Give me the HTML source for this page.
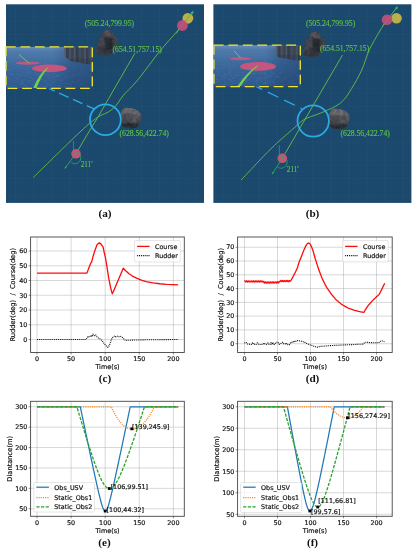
<!DOCTYPE html>
<html lang="en"><head><meta charset="utf-8"><title>Figure</title>
<style>html,body{margin:0;padding:0;background:#fff;}body{width:416px;height:550px;overflow:hidden;}svg{display:block;}</style>
</head><body>
<svg width="416" height="550" viewBox="0 0 416 550">
<defs>
<pattern id="grid" width="18" height="18" patternUnits="userSpaceOnUse" x="-2.7" y="-2.4">
<path d="M0,0.5H18M0.5,0V18" stroke="#9fc0e0" stroke-opacity="0.045" stroke-width="0.6" fill="none"/>
</pattern>
<pattern id="grid2" width="3.6" height="3.6" patternUnits="userSpaceOnUse" x="4" y="2">
<path d="M0,0.3H3.6M0.3,0V3.6" stroke="#9fc0e0" stroke-opacity="0.012" stroke-width="0.4" fill="none"/>
</pattern>
<linearGradient id="water" x1="0" y1="0" x2="0" y2="1">
<stop offset="0" stop-color="#6c90b9"/><stop offset="0.1" stop-color="#507bac"/><stop offset="0.45" stop-color="#3b699d"/><stop offset="1" stop-color="#2b588b"/>
</linearGradient>
<linearGradient id="shade" x1="0" y1="0" x2="1" y2="0"><stop offset="0" stop-color="#17365c" stop-opacity="0"/><stop offset="0.5" stop-color="#17365c" stop-opacity="0.3"/><stop offset="1" stop-color="#17365c" stop-opacity="0.4"/></linearGradient>
<linearGradient id="cliff" x1="0" y1="0" x2="1" y2="1">
<stop offset="0" stop-color="#6a696b"/><stop offset="0.5" stop-color="#47474c"/><stop offset="1" stop-color="#5c5b5e"/>
</linearGradient>
<radialGradient id="rock1" cx="0.5" cy="0.55" r="0.6">
<stop offset="0" stop-color="#2e3038"/><stop offset="0.55" stop-color="#3d3f48"/><stop offset="1" stop-color="#4c4e58"/>
</radialGradient>
<linearGradient id="rock2" x1="0.3" y1="0" x2="0.6" y2="1">
<stop offset="0" stop-color="#6e6f74"/><stop offset="0.45" stop-color="#55575e"/><stop offset="1" stop-color="#2f333e"/>
</linearGradient>
<filter id="rough" x="-10%" y="-10%" width="120%" height="120%">
<feTurbulence type="fractalNoise" baseFrequency="0.3" numOctaves="2" seed="4" result="n"/>
<feColorMatrix in="n" type="matrix" values="0 0 0 0 0  0 0 0 0 0  0 0 0 0 0  0.9 0.9 0 0 -0.75" result="a"/>
<feFlood flood-color="#15161a" result="f"/>
<feComposite in="f" in2="a" operator="in" result="dark"/>
<feComposite in="dark" in2="SourceGraphic" operator="in" result="d2"/>
<feMerge result="m"><feMergeNode in="SourceGraphic"/><feMergeNode in="d2"/></feMerge>
<feGaussianBlur in="m" stdDeviation="0.45"/>
</filter>
<filter id="soft" x="-5%" y="-5%" width="110%" height="110%"><feGaussianBlur stdDeviation="0.5"/></filter>
<filter id="soft2" x="-20%" y="-20%" width="140%" height="140%"><feGaussianBlur stdDeviation="1.1"/></filter>
<filter id="waves" x="0" y="0" width="100%" height="100%">
<feTurbulence type="fractalNoise" baseFrequency="0.25 0.9" numOctaves="2" seed="7" result="n"/>
<feColorMatrix in="n" type="matrix" values="0 0 0 0 0.1  0 0 0 0 0.2  0 0 0 0 0.4  1.0 0 0 0 -0.45" result="a"/>
<feComposite in="a" in2="SourceGraphic" operator="in" result="d2"/>
<feMerge><feMergeNode in="SourceGraphic"/><feMergeNode in="d2"/></feMerge>
</filter>
</defs>
<rect width="416" height="550" fill="#ffffff"/>
<g>
<rect x="6" y="4.3" width="198" height="198.6" fill="#1b486d"/>
<g transform="translate(0,0)"><rect x="6" y="4.3" width="198" height="198.6" fill="url(#grid2)"/>
<rect x="6" y="4.3" width="198" height="198.6" fill="url(#grid)"/></g>
<path d="M182.4,25.5 L181.2,26.85 L179.69,28.54 L177.9,30.52 L175.9,32.75 L173.73,35.17 L171.44,37.74 L169.08,40.4 L166.71,43.1 L164.37,45.81 L162.12,48.45 L160,51 L157.94,53.56 L155.83,56.24 L153.7,59.02 L151.55,61.86 L149.41,64.71 L147.3,67.54 L145.22,70.31 L143.21,72.98 L141.27,75.51 L139.43,77.86 L137.7,80 L135.16,82.96 L132.79,85.56 L130.58,87.86 L128.53,89.92 L126.63,91.82 L124.89,93.62 L123.3,95.4 L120.5,99.14 L118.55,102.23 L116.5,105 L114.14,107.48 L111.68,109.64 L108.8,111.7 L106.84,112.78 L104.75,113.67 L102.5,114.6 L100.03,115.8 L97.3,117.5 L95.62,118.68 L94.07,119.79 L92.53,120.94 L90.85,122.27 L88.9,123.91 L86.53,125.99 L83.61,128.64 L80,132 L78.51,133.4 L76.84,134.99 L75.01,136.74 L73.03,138.64 L70.93,140.67 L68.73,142.8 L66.43,145.03 L64.07,147.33 L61.66,149.68 L59.22,152.06 L56.77,154.46 L54.32,156.85 L51.9,159.22 L49.53,161.55 L47.21,163.82 L44.98,166 L42.85,168.09 L40.85,170.06 L38.97,171.9 L37.26,173.58 L35.72,175.09 L34.38,176.4 L33.25,177.5" fill="none" stroke="#62c14a" stroke-width="0.9"/>
<path d="M135,53 L119.4,80 L108.8,98.3 L98.3,116.5 L87.7,133.8 L76,153.8" fill="none" stroke="#62c14a" stroke-width="0.9"/>
<circle cx="187.9" cy="18.3" r="5.4" fill="#b9b04b"/>
<path d="M176,33.5 L192.4,12.3" stroke="#45c04e" stroke-width="1" fill="none"/>
<path d="M193.6,10.6 L193,14.4 L190.6,12.6 Z" fill="#3cbc55"/>
<circle cx="182.4" cy="25.5" r="5.4" fill="#c94f7c" fill-opacity="0.88"/>
<circle cx="76" cy="153.8" r="4.8" fill="#c94f7c"/>
<path d="M77.5,151.60000000000002 L65.2,167.9" stroke="#2fab57" stroke-width="0.9" fill="none"/>
<path d="M64.4,169 L65.1,166.27 L66.85,167.6 Z" fill="#2fab57"/>
<path d="M73.4,140.8 V156.8" stroke="#2fab57" stroke-width="0.7" fill="none"/>
<path d="M73.4,151.87 A6.0,6.0 0 1 1 71.16,162.47" stroke="#2fab57" stroke-width="0.8" fill="none"/>
<clipPath id="r1a"><path d="M108.6,29.6 L105,31 L102.1,33.5 L99.6,37.5 L98.2,41.3 L97,45 L96.1,49.1 L96.3,52.5 L97.4,54.3 L101,55.4 L104.7,55.6 L108,55.2 L110.8,54.3 L113.8,51.5 L116,48.2 L117.4,44 L117.7,39.6 L116,36.5 L113.4,34.4 L112,32 L110.8,30.5Z"/></clipPath>
<g filter="url(#rough)"><path d="M108.6,29.6 L105,31 L102.1,33.5 L99.6,37.5 L98.2,41.3 L97,45 L96.1,49.1 L96.3,52.5 L97.4,54.3 L101,55.4 L104.7,55.6 L108,55.2 L110.8,54.3 L113.8,51.5 L116,48.2 L117.4,44 L117.7,39.6 L116,36.5 L113.4,34.4 L112,32 L110.8,30.5Z" fill="url(#rock1)"/>
<g clip-path="url(#r1a)" filter="url(#soft2)">
<path d="M106.87,29.19 L112.92,32.65 L112.06,36.98 L106.44,36.11 L102.98,33.95Z" fill="#626165" fill-opacity="0.9"/>
<path d="M98.22,36.98 L104.71,35.25 L105.14,45.63 L97.79,49.09Z" fill="#4a4c54" fill-opacity="0.9"/>
<path d="M105.14,36.98 L112.92,36.98 L113.36,49.95 L105.57,50.82Z" fill="#2a2c35" fill-opacity="0.9"/>
<path d="M113.36,35.25 L118.11,38.71 L116.38,49.09 L113.36,49.95Z" fill="#4b4b52" fill-opacity="0.9"/>
<path d="M96.06,49.09 L111.63,50.38 L111.19,56.01 L96.92,55.57Z" fill="#383a44" fill-opacity="0.9"/>
<path d="M107.73,32.22 L109.46,32.22 L109.46,33.95 L107.73,33.95Z" fill="#222329" fill-opacity="0.8"/>
</g></g>
<clipPath id="r2a"><path d="M125.2,107.8 L131.3,108.2 L134.5,109 L137.4,110.4 L139.8,112.4 L141.2,114.7 L141.9,117 L141.7,119 L140.6,122 L139.1,124.2 L137.5,126.2 L135.6,127.7 L132,128.2 L128.7,128.1 L125.5,127.5 L122.7,126.4 L121.2,124 L120.5,121.6 L120.2,118.5 L120.5,115.6 L121,112.8 L122.2,110.4 L123.5,108.8Z"/></clipPath>
<g filter="url(#rough)"><path d="M125.2,107.8 L131.3,108.2 L134.5,109 L137.4,110.4 L139.8,112.4 L141.2,114.7 L141.9,117 L141.7,119 L140.6,122 L139.1,124.2 L137.5,126.2 L135.6,127.7 L132,128.2 L128.7,128.1 L125.5,127.5 L122.7,126.4 L121.2,124 L120.5,121.6 L120.2,118.5 L120.5,115.6 L121,112.8 L122.2,110.4 L123.5,108.8Z" fill="url(#rock2)"/>
<g clip-path="url(#r2a)" filter="url(#soft2)">
<path d="M123.52,107.35 L138.22,109.52 L139.95,114.71 L131.3,113.84 L122.65,112.98Z" fill="#737375" fill-opacity="0.85"/>
<path d="M120.06,113.84 L131.3,114.27 L130.44,122.49 L120.49,122.49Z" fill="#4c4d53" fill-opacity="0.8"/>
<path d="M131.3,114.71 L142.11,115.14 L139.95,123.36 L131.3,122.92Z" fill="#5a5b60" fill-opacity="0.8"/>
<path d="M120.92,122.92 L139.95,123.36 L135.63,128.55 L122.65,127.68Z" fill="#2f3139" fill-opacity="0.9"/>
</g></g>
<circle cx="105.4" cy="119.8" r="15.4" fill="none" stroke="#29aae2" stroke-width="1.8"/>
<path d="M94.1,108.9 L48.7,88.4" stroke="#29aae2" stroke-width="1.25" stroke-dasharray="10.4 4.8" stroke-dashoffset="2.4" fill="none"/>
<rect x="6.0" y="46.9" width="86.3" height="41.5" fill="url(#water)" filter="url(#waves)"/>
<clipPath id="cla"><path d="M64.2,46.9 L92.3,46.9 L92.3,64.6 L88,64.2 L83,63.4 L78,62.3 L72,61.5 L70,60.8 L68,58.5 L64.5,57.4Z"/></clipPath>
<g clip-path="url(#cla)" filter="url(#soft)"><rect x="64.2" y="46.9" width="28.1" height="18.7" fill="#4b4b50"/>
<rect x="64.2" y="46.9" width="1.86" height="18.7" fill="#66656a"/>
<rect x="66.06" y="46.9" width="2.7" height="18.7" fill="#414247"/>
<rect x="68.77" y="46.9" width="2.62" height="18.7" fill="#5c5b5f"/>
<rect x="71.38" y="46.9" width="2.37" height="18.7" fill="#4a4a4f"/>
<rect x="73.75" y="46.9" width="1.95" height="18.7" fill="#68686b"/>
<rect x="75.7" y="46.9" width="2.87" height="18.7" fill="#3f4045"/>
<rect x="78.56" y="46.9" width="2.89" height="18.7" fill="#59585c"/>
<rect x="81.46" y="46.9" width="2.42" height="18.7" fill="#4e4e53"/>
<rect x="83.88" y="46.9" width="2.41" height="18.7" fill="#636266"/>
<rect x="86.28" y="46.9" width="1.98" height="18.7" fill="#44444a"/>
<rect x="88.26" y="46.9" width="1.61" height="18.7" fill="#57575b"/>
<rect x="89.87" y="46.9" width="2.19" height="18.7" fill="#66656a"/>
<rect x="92.06" y="46.9" width="2.54" height="18.7" fill="#414247"/>
<rect x="64.2" y="58.6" width="28.1" height="7" fill="#2e2f35" fill-opacity="0.3"/>
</g>
<rect x="52.2" y="46.9" width="40.1" height="41.5" fill="url(#shade)"/>
<ellipse cx="27.6" cy="63.1" rx="12" ry="1.7" fill="#bf5683"/>
<ellipse cx="49.3" cy="68.4" rx="17.5" ry="3.8" fill="#c4557f"/>
<path d="M19.2,54.9 L28.8,62.8" stroke="#6fd04a" stroke-width="0.9" fill="none" stroke-linecap="round"/>
<path d="M47.4,67.6 Q39,74 33.3,88 L36.5,88 Q41.5,75 48.0,67.89999999999999 Z" fill="#72d048"/>
<rect x="6.0" y="46.9" width="86.3" height="41.5" fill="none" stroke="#f2e62e" stroke-width="1.3" stroke-dasharray="9.7 4.78"/>
<text x="84.8" y="25.6" font-family="Liberation Serif, DejaVu Serif, serif" font-size="7.7" fill="#5fc04a" stroke="#5fc04a" stroke-width="0.15">(505.24,799.95)</text>
<text x="112.5" y="52.2" font-family="Liberation Serif, DejaVu Serif, serif" font-size="7.7" fill="#5fc04a" stroke="#5fc04a" stroke-width="0.15">(654.51,757.15)</text>
<text x="119.5" y="135.8" font-family="Liberation Serif, DejaVu Serif, serif" font-size="7.7" fill="#5fc04a" stroke="#5fc04a" stroke-width="0.15">(628.56,422.74)</text>
<text x="80.7" y="166.8" font-family="Liberation Serif, DejaVu Serif, serif" font-size="7.2" fill="#5fc04a" stroke="#5fc04a" stroke-width="0.15">211'</text>
</g>
<g>
<rect x="213.4" y="4.3" width="198" height="198.6" fill="#1b486d"/>
<g transform="translate(207.4,0)"><rect x="6" y="4.3" width="198" height="198.6" fill="url(#grid2)"/>
<rect x="6" y="4.3" width="198" height="198.6" fill="url(#grid)"/></g>
<path d="M387,19.7 L384.89,22.77 L381.3,28.5 L379.25,31.95 L376.8,36.09 L374.18,40.63 L371.63,45.27 L369.4,49.7 L367.22,54.98 L365.4,60.25 L363.58,65.52 L361.4,70.8 L359.2,75.22 L356.7,79.83 L354.12,84.35 L351.65,88.5 L349.5,92 L346.69,96.23 L344.38,99.18 L342.1,101.6 L339.72,103.63 L337.37,105.14 L335,106.5 L332.67,107.75 L330.32,108.84 L327.7,110 L325.5,110.98 L323.14,111.99 L320.64,113.04 L318,114.1 L316.06,114.82 L313.95,115.56 L311.77,116.31 L309.64,117.05 L307.68,117.79 L306,118.5 L303.56,119.81 L301.78,121.07 L300,122.5 L298.67,123.62 L297.33,124.91 L294,128 L292.65,129.21 L291.1,130.58 L289.38,132.08 L287.51,133.71 L285.52,135.46 L283.43,137.3 L281.25,139.23 L279.02,141.23 L276.76,143.29 L274.49,145.4 L272.23,147.54 L270,149.7 L268.02,151.67 L265.89,153.84 L263.63,156.17 L261.28,158.61 L258.89,161.13 L256.48,163.67 L254.1,166.21 L251.78,168.68 L249.56,171.06 L247.47,173.3 L245.55,175.36 L243.84,177.19 L242.38,178.75 L241.2,180" fill="none" stroke="#62c14a" stroke-width="0.9"/>
<path d="M342.5,55 L282.3,158.3" fill="none" stroke="#62c14a" stroke-width="0.9"/>
<circle cx="396.5" cy="18.3" r="5.3" fill="#b9b04b"/>
<path d="M383,26 L396.6,7.6" stroke="#3cbc55" stroke-width="1" fill="none"/>
<path d="M397.8,5.9 L397.2,9.7 L394.8,7.9 Z" fill="#3cbc55"/>
<circle cx="387" cy="19.7" r="5.3" fill="#c94f7c" fill-opacity="0.88"/>
<circle cx="282.3" cy="158.3" r="4.8" fill="#c94f7c"/>
<path d="M283.8,156.10000000000002 L272.5,173.6" stroke="#2fab57" stroke-width="0.9" fill="none"/>
<path d="M271.7,174.7 L272.19,171.92 L274.04,173.11 Z" fill="#2fab57"/>
<path d="M279.3,145.3 V161.3" stroke="#2fab57" stroke-width="0.7" fill="none"/>
<path d="M279.3,156.48 A6.0,6.0 0 1 1 277.84,167.24" stroke="#2fab57" stroke-width="0.8" fill="none"/>
<clipPath id="r1b"><path d="M316,31.1 L312.4,32.5 L309.5,35 L307,39 L305.6,42.8 L304.4,46.5 L303.5,50.6 L303.7,54 L304.8,55.8 L308.4,56.9 L312.1,57.1 L315.4,56.7 L318.2,55.8 L321.2,53 L323.4,49.7 L324.8,45.5 L325.1,41.1 L323.4,38 L320.8,35.9 L319.4,33.5 L318.2,32Z"/></clipPath>
<g filter="url(#rough)"><path d="M316,31.1 L312.4,32.5 L309.5,35 L307,39 L305.6,42.8 L304.4,46.5 L303.5,50.6 L303.7,54 L304.8,55.8 L308.4,56.9 L312.1,57.1 L315.4,56.7 L318.2,55.8 L321.2,53 L323.4,49.7 L324.8,45.5 L325.1,41.1 L323.4,38 L320.8,35.9 L319.4,33.5 L318.2,32Z" fill="url(#rock1)"/>
<g clip-path="url(#r1b)" filter="url(#soft2)">
<path d="M314.27,30.69 L320.32,34.15 L319.46,38.48 L313.84,37.61 L310.38,35.45Z" fill="#626165" fill-opacity="0.9"/>
<path d="M305.62,38.48 L312.11,36.75 L312.54,47.13 L305.19,50.59Z" fill="#4a4c54" fill-opacity="0.9"/>
<path d="M312.54,38.48 L320.32,38.48 L320.76,51.45 L312.97,52.32Z" fill="#2a2c35" fill-opacity="0.9"/>
<path d="M320.76,36.75 L325.51,40.21 L323.78,50.59 L320.76,51.45Z" fill="#4b4b52" fill-opacity="0.9"/>
<path d="M303.46,50.59 L319.03,51.88 L318.59,57.51 L304.32,57.07Z" fill="#383a44" fill-opacity="0.9"/>
<path d="M315.13,33.72 L316.86,33.72 L316.86,35.45 L315.13,35.45Z" fill="#222329" fill-opacity="0.8"/>
</g></g>
<clipPath id="r2b"><path d="M333.4,108.7 L339.5,109.1 L342.7,109.9 L345.6,111.3 L348,113.3 L349.4,115.6 L350.1,117.9 L349.9,119.9 L348.8,122.9 L347.3,125.1 L345.7,127.1 L343.8,128.6 L340.2,129.1 L336.9,129 L333.7,128.4 L330.9,127.3 L329.4,124.9 L328.7,122.5 L328.4,119.4 L328.7,116.5 L329.2,113.7 L330.4,111.3 L331.7,109.7Z"/></clipPath>
<g filter="url(#rough)"><path d="M333.4,108.7 L339.5,109.1 L342.7,109.9 L345.6,111.3 L348,113.3 L349.4,115.6 L350.1,117.9 L349.9,119.9 L348.8,122.9 L347.3,125.1 L345.7,127.1 L343.8,128.6 L340.2,129.1 L336.9,129 L333.7,128.4 L330.9,127.3 L329.4,124.9 L328.7,122.5 L328.4,119.4 L328.7,116.5 L329.2,113.7 L330.4,111.3 L331.7,109.7Z" fill="url(#rock2)"/>
<g clip-path="url(#r2b)" filter="url(#soft2)">
<path d="M331.72,108.25 L346.42,110.42 L348.15,115.61 L339.5,114.74 L330.85,113.88Z" fill="#737375" fill-opacity="0.85"/>
<path d="M328.26,114.74 L339.5,115.17 L338.64,123.39 L328.69,123.39Z" fill="#4c4d53" fill-opacity="0.8"/>
<path d="M339.5,115.61 L350.31,116.04 L348.15,124.26 L339.5,123.82Z" fill="#5a5b60" fill-opacity="0.8"/>
<path d="M329.12,123.82 L348.15,124.26 L343.83,129.45 L330.85,128.58Z" fill="#2f3139" fill-opacity="0.9"/>
</g></g>
<circle cx="313.2" cy="121" r="15.7" fill="none" stroke="#29aae2" stroke-width="1.8"/>
<path d="M256.3,86.6 L301.9,108.7" stroke="#29aae2" stroke-width="1.25" stroke-dasharray="11.7 6.4" stroke-dashoffset="5.3" fill="none"/>
<rect x="213.9" y="45.2" width="86.4" height="41.5" fill="url(#water)" filter="url(#waves)"/>
<clipPath id="clb"><path d="M276,45.2 L300.3,45.2 L300.3,60.9 L296,60.5 L291,59.7 L286,58.6 L280,57.8 L278,57.1 L276,54.8 L276.3,53.7Z"/></clipPath>
<g clip-path="url(#clb)" filter="url(#soft)"><rect x="276" y="45.2" width="24.3" height="16.7" fill="#4b4b50"/>
<rect x="276" y="45.2" width="1.86" height="16.7" fill="#66656a"/>
<rect x="277.86" y="45.2" width="2.7" height="16.7" fill="#414247"/>
<rect x="280.57" y="45.2" width="2.62" height="16.7" fill="#5c5b5f"/>
<rect x="283.18" y="45.2" width="2.37" height="16.7" fill="#4a4a4f"/>
<rect x="285.55" y="45.2" width="1.95" height="16.7" fill="#68686b"/>
<rect x="287.5" y="45.2" width="2.87" height="16.7" fill="#3f4045"/>
<rect x="290.36" y="45.2" width="2.89" height="16.7" fill="#59585c"/>
<rect x="293.26" y="45.2" width="2.42" height="16.7" fill="#4e4e53"/>
<rect x="295.68" y="45.2" width="2.41" height="16.7" fill="#636266"/>
<rect x="298.08" y="45.2" width="1.98" height="16.7" fill="#44444a"/>
<rect x="300.06" y="45.2" width="1.61" height="16.7" fill="#57575b"/>
<rect x="276" y="54.9" width="24.3" height="7" fill="#2e2f35" fill-opacity="0.3"/>
</g>
<rect x="264" y="45.2" width="36.3" height="41.5" fill="url(#shade)"/>
<ellipse cx="240.5" cy="58.7" rx="10.8" ry="1.6" fill="#bf5683"/>
<ellipse cx="258" cy="66.4" rx="18" ry="4.3" fill="#c4557f"/>
<path d="M234.4,51.2 L240.5,58" stroke="#6fd04a" stroke-width="0.9" fill="none" stroke-linecap="round"/>
<path d="M257.3,65.6 Q246,73 237.70000000000002,86 L240.9,86 Q248.5,74 257.90000000000003,65.89999999999999 Z" fill="#72d048"/>
<rect x="213.9" y="45.2" width="86.4" height="41.5" fill="none" stroke="#f2e62e" stroke-width="1.3" stroke-dasharray="9.7 4.78"/>
<text x="305.9" y="25.9" font-family="Liberation Serif, DejaVu Serif, serif" font-size="7.7" fill="#5fc04a" stroke="#5fc04a" stroke-width="0.15">(505.24,799.95)</text>
<text x="319.9" y="51.2" font-family="Liberation Serif, DejaVu Serif, serif" font-size="7.7" fill="#5fc04a" stroke="#5fc04a" stroke-width="0.15">(654.51,757.15)</text>
<text x="340.5" y="136" font-family="Liberation Serif, DejaVu Serif, serif" font-size="7.7" fill="#5fc04a" stroke="#5fc04a" stroke-width="0.15">(628.56,422.74)</text>
<text x="286.8" y="171.5" font-family="Liberation Serif, DejaVu Serif, serif" font-size="7.2" fill="#5fc04a" stroke="#5fc04a" stroke-width="0.15">211'</text>
</g>
<text x="105" y="216.6" font-family="Liberation Serif, DejaVu Serif, serif" font-size="11.2" font-weight="bold" text-anchor="middle" fill="#111">(a)</text>
<text x="312.5" y="216.6" font-family="Liberation Serif, DejaVu Serif, serif" font-size="11.2" font-weight="bold" text-anchor="middle" fill="#111">(b)</text>
<g>
<path d="M37,237 V352.5" stroke="#b0b0b0" stroke-width="0.5"/>
<path d="M71.1,237 V352.5" stroke="#b0b0b0" stroke-width="0.5"/>
<path d="M105.2,237 V352.5" stroke="#b0b0b0" stroke-width="0.5"/>
<path d="M139.3,237 V352.5" stroke="#b0b0b0" stroke-width="0.5"/>
<path d="M173.4,237 V352.5" stroke="#b0b0b0" stroke-width="0.5"/>
<path d="M30.6,339.5 H184.3" stroke="#b0b0b0" stroke-width="0.5"/>
<path d="M30.6,324.75 H184.3" stroke="#b0b0b0" stroke-width="0.5"/>
<path d="M30.6,310 H184.3" stroke="#b0b0b0" stroke-width="0.5"/>
<path d="M30.6,295.25 H184.3" stroke="#b0b0b0" stroke-width="0.5"/>
<path d="M30.6,280.5 H184.3" stroke="#b0b0b0" stroke-width="0.5"/>
<path d="M30.6,265.75 H184.3" stroke="#b0b0b0" stroke-width="0.5"/>
<path d="M30.6,251 H184.3" stroke="#b0b0b0" stroke-width="0.5"/>
<clipPath id="cc"><rect x="30.6" y="237" width="153.70000000000002" height="115.5"/></clipPath>
<g clip-path="url(#cc)">
<path d="M37,273.12 L86.92,273.12 L88.83,267.96 L90.88,262.8 L91.56,262.36 L92.92,256.9 L94.97,250.26 L97.02,244.66 L99.2,242.74 L100.43,243.48 L102.13,245.69 L103.15,247.16 L104.04,251.74 L105.54,258.08 L107.25,268.7 L108.61,277.55 L110.66,287.88 L112.29,293.77 L113.38,291.56 L123.27,268.26 L125.66,270.76 L129.07,273.71 L132.48,276.07 L136.57,278.14 L141.35,280.06 L146.12,281.53 L152.94,282.86 L159.76,283.75 L166.58,284.33 L178.17,284.93" fill="none" stroke="#ff0a0a" stroke-width="1.3" stroke-linejoin="round"/>
<path d="M37,339.5 L37.68,339.5 L38.36,339.5 L39.05,339.5 L39.73,339.5 L40.41,339.5 L41.09,339.5 L41.77,339.5 L42.46,339.5 L43.14,339.5 L43.82,339.5 L44.5,339.5 L45.18,339.5 L45.87,339.5 L46.55,339.5 L47.23,339.5 L47.91,339.5 L48.59,339.5 L49.28,339.5 L49.96,339.5 L50.64,339.5 L51.32,339.5 L52,339.5 L52.69,339.5 L53.37,339.5 L54.05,339.5 L54.73,339.5 L55.41,339.5 L56.1,339.5 L56.78,339.5 L57.46,339.5 L58.14,339.5 L58.82,339.5 L59.51,339.5 L60.19,339.5 L60.87,339.5 L61.55,339.5 L62.23,339.5 L62.92,339.5 L63.6,339.5 L64.28,339.5 L64.96,339.5 L65.64,339.5 L66.33,339.5 L67.01,339.5 L67.69,339.5 L68.37,339.5 L69.05,339.5 L69.74,339.5 L70.42,339.5 L71.1,339.5 L71.78,339.5 L72.46,339.5 L73.15,339.5 L73.83,339.5 L74.51,339.5 L75.19,339.5 L75.87,339.5 L76.56,339.5 L77.24,339.5 L77.92,339.5 L78.6,339.5 L79.28,339.5 L79.97,339.5 L80.65,339.5 L81.33,339.5 L82.01,339.5 L82.69,339.5 L83.38,339.5 L84.06,339.5 L84.74,339.5 L85.42,339.5 L86.1,338.91 L86.79,338.32 L87.47,337.29 L88.15,336.25 L88.83,336.7 L89.51,337.14 L90.2,336.25 L90.88,335.37 L91.56,335.96 L92.24,336.55 L92.92,334.04 L93.61,334.85 L94.29,335.67 L94.97,335.22 L95.65,334.78 L96.33,335.81 L97.02,336.85 L97.7,337.44 L98.38,338.02 L99.06,338.32 L99.74,338.62 L100.43,339.28 L101.11,339.94 L101.79,340.61 L102.47,341.27 L103.15,342.15 L103.84,343.04 L104.52,343.93 L105.2,344.81 L105.88,345.55 L106.56,346.29 L107.25,346.8 L107.93,347.32 L108.61,346.51 L109.29,345.69 L109.97,343.7 L110.66,341.71 L111.34,340.02 L112.02,338.32 L112.7,337.51 L113.38,336.7 L114.07,336.33 L114.75,335.96 L115.43,336.48 L116.11,336.99 L116.79,336.55 L117.48,336.11 L118.16,336.48 L118.84,336.85 L119.52,336.55 L120.2,336.25 L120.89,336.55 L121.57,336.85 L122.25,337.44 L122.93,338.02 L123.61,338.91 L124.3,339.8 L124.98,340.09 L125.66,340.38 L126.34,340.36 L127.02,340.33 L127.71,340.3 L128.39,340.27 L129.07,340.24 L129.75,340.21 L130.43,340.18 L131.12,340.15 L131.8,340.12 L132.48,340.09 L133.16,340.08 L133.84,340.06 L134.53,340.05 L135.21,340.03 L135.89,340.02 L136.57,340 L137.25,339.99 L137.94,339.97 L138.62,339.96 L139.3,339.94 L139.98,339.93 L140.66,339.91 L141.35,339.9 L142.03,339.88 L142.71,339.87 L143.39,339.85 L144.07,339.84 L144.76,339.82 L145.44,339.81 L146.12,339.8 L146.8,339.79 L147.48,339.78 L148.17,339.78 L148.85,339.77 L149.53,339.76 L150.21,339.76 L150.89,339.75 L151.58,339.74 L152.26,339.74 L152.94,339.73 L153.62,339.73 L154.3,339.72 L154.99,339.71 L155.67,339.71 L156.35,339.7 L157.03,339.69 L157.71,339.69 L158.4,339.68 L159.08,339.68 L159.76,339.67 L160.44,339.66 L161.12,339.66 L161.81,339.65 L162.49,339.64 L163.17,339.64 L163.85,339.63 L164.53,339.63 L165.22,339.62 L165.9,339.61 L166.58,339.61 L167.26,339.6 L167.94,339.59 L168.63,339.59 L169.31,339.58 L169.99,339.58 L170.67,339.57 L171.35,339.56 L172.04,339.56 L172.72,339.55 L173.4,339.54 L174.08,339.54 L174.76,339.53 L175.45,339.53 L176.13,339.52 L176.81,339.51 L177.49,339.51 L178.17,339.5" fill="none" stroke="#111" stroke-width="1.1" stroke-linejoin="round" stroke-dasharray="1 0.9"/>
</g>
<rect x="30.6" y="237" width="153.70000000000002" height="115.5" fill="none" stroke="#444" stroke-width="0.9"/>
<path d="M37,352.5 v2" stroke="#222" stroke-width="0.5"/>
<text x="37" y="361.1" font-family="DejaVu Sans, Liberation Sans, sans-serif" stroke="#111" stroke-width="0.18" font-size="6.4" text-anchor="middle" fill="#111">0</text>
<path d="M71.1,352.5 v2" stroke="#222" stroke-width="0.5"/>
<text x="71.1" y="361.1" font-family="DejaVu Sans, Liberation Sans, sans-serif" stroke="#111" stroke-width="0.18" font-size="6.4" text-anchor="middle" fill="#111">50</text>
<path d="M105.2,352.5 v2" stroke="#222" stroke-width="0.5"/>
<text x="105.2" y="361.1" font-family="DejaVu Sans, Liberation Sans, sans-serif" stroke="#111" stroke-width="0.18" font-size="6.4" text-anchor="middle" fill="#111">100</text>
<path d="M139.3,352.5 v2" stroke="#222" stroke-width="0.5"/>
<text x="139.3" y="361.1" font-family="DejaVu Sans, Liberation Sans, sans-serif" stroke="#111" stroke-width="0.18" font-size="6.4" text-anchor="middle" fill="#111">150</text>
<path d="M173.4,352.5 v2" stroke="#222" stroke-width="0.5"/>
<text x="173.4" y="361.1" font-family="DejaVu Sans, Liberation Sans, sans-serif" stroke="#111" stroke-width="0.18" font-size="6.4" text-anchor="middle" fill="#111">200</text>
<path d="M30.6,339.5 h-2" stroke="#222" stroke-width="0.5"/>
<text x="27.400000000000002" y="341.75" font-family="DejaVu Sans, Liberation Sans, sans-serif" stroke="#111" stroke-width="0.18" font-size="6.4" text-anchor="end" fill="#111">0</text>
<path d="M30.6,324.75 h-2" stroke="#222" stroke-width="0.5"/>
<text x="27.400000000000002" y="327" font-family="DejaVu Sans, Liberation Sans, sans-serif" stroke="#111" stroke-width="0.18" font-size="6.4" text-anchor="end" fill="#111">10</text>
<path d="M30.6,310 h-2" stroke="#222" stroke-width="0.5"/>
<text x="27.400000000000002" y="312.25" font-family="DejaVu Sans, Liberation Sans, sans-serif" stroke="#111" stroke-width="0.18" font-size="6.4" text-anchor="end" fill="#111">20</text>
<path d="M30.6,295.25 h-2" stroke="#222" stroke-width="0.5"/>
<text x="27.400000000000002" y="297.5" font-family="DejaVu Sans, Liberation Sans, sans-serif" stroke="#111" stroke-width="0.18" font-size="6.4" text-anchor="end" fill="#111">30</text>
<path d="M30.6,280.5 h-2" stroke="#222" stroke-width="0.5"/>
<text x="27.400000000000002" y="282.75" font-family="DejaVu Sans, Liberation Sans, sans-serif" stroke="#111" stroke-width="0.18" font-size="6.4" text-anchor="end" fill="#111">40</text>
<path d="M30.6,265.75 h-2" stroke="#222" stroke-width="0.5"/>
<text x="27.400000000000002" y="268" font-family="DejaVu Sans, Liberation Sans, sans-serif" stroke="#111" stroke-width="0.18" font-size="6.4" text-anchor="end" fill="#111">50</text>
<path d="M30.6,251 h-2" stroke="#222" stroke-width="0.5"/>
<text x="27.400000000000002" y="253.25" font-family="DejaVu Sans, Liberation Sans, sans-serif" stroke="#111" stroke-width="0.18" font-size="6.4" text-anchor="end" fill="#111">60</text>
<text x="107.45" y="368.5" font-family="DejaVu Sans, Liberation Sans, sans-serif" stroke="#111" stroke-width="0.18" font-size="6.45" text-anchor="middle" fill="#111">Time(s)</text>
<text transform="translate(15.2,294.75) rotate(-90)" font-family="DejaVu Sans, Liberation Sans, sans-serif" stroke="#111" stroke-width="0.18" font-size="6.7" text-anchor="middle" fill="#111" xml:space="preserve">Rudder(deg)  /  Course(deg)</text>
<rect x="134.5" y="240.5" width="45.8" height="21.5" rx="1.2" fill="#ffffff" fill-opacity="0.8" stroke="#cccccc" stroke-width="0.5"/>
<path d="M137.1,246.4 h12.5" stroke="#ff0a0a" stroke-width="1.3" fill="none"/>
<text x="155.0" y="248.8" font-family="DejaVu Sans, Liberation Sans, sans-serif" stroke="#111" stroke-width="0.18" font-size="6.4" fill="#111">Course</text>
<path d="M137.1,255.6 h12.5" stroke="#111" stroke-width="1.1" stroke-dasharray="1 0.9" fill="none"/>
<text x="155.0" y="258" font-family="DejaVu Sans, Liberation Sans, sans-serif" stroke="#111" stroke-width="0.18" font-size="6.4" fill="#111">Rudder</text>
<text x="105" y="381.6" font-family="Liberation Serif, DejaVu Serif, serif" font-size="11.2" font-weight="bold" text-anchor="middle" fill="#111">(c)</text>
</g>
<g>
<path d="M244.5,237 V352.5" stroke="#b0b0b0" stroke-width="0.5"/>
<path d="M277.5,237 V352.5" stroke="#b0b0b0" stroke-width="0.5"/>
<path d="M310.5,237 V352.5" stroke="#b0b0b0" stroke-width="0.5"/>
<path d="M343.5,237 V352.5" stroke="#b0b0b0" stroke-width="0.5"/>
<path d="M376.5,237 V352.5" stroke="#b0b0b0" stroke-width="0.5"/>
<path d="M237.6,343.7 H392.2" stroke="#b0b0b0" stroke-width="0.5"/>
<path d="M237.6,329.92 H392.2" stroke="#b0b0b0" stroke-width="0.5"/>
<path d="M237.6,316.14 H392.2" stroke="#b0b0b0" stroke-width="0.5"/>
<path d="M237.6,302.36 H392.2" stroke="#b0b0b0" stroke-width="0.5"/>
<path d="M237.6,288.58 H392.2" stroke="#b0b0b0" stroke-width="0.5"/>
<path d="M237.6,274.8 H392.2" stroke="#b0b0b0" stroke-width="0.5"/>
<path d="M237.6,261.02 H392.2" stroke="#b0b0b0" stroke-width="0.5"/>
<path d="M237.6,247.24 H392.2" stroke="#b0b0b0" stroke-width="0.5"/>
<clipPath id="cd"><rect x="237.6" y="237" width="154.6" height="115.5"/></clipPath>
<g clip-path="url(#cd)">
<path d="M244.5,281.35 L244.83,280.82 L245.16,281.34 L245.49,281.81 L245.82,281.95 L246.15,281.34 L246.48,280.8 L246.81,281.21 L247.14,281.61 L247.47,282.03 L247.8,281.3 L248.13,280.87 L248.46,281.07 L248.79,281.42 L249.12,282.03 L249.45,281.51 L249.78,281.03 L250.11,281.02 L250.44,281.7 L250.77,281.93 L251.1,281.92 L251.43,281.03 L251.76,280.91 L252.09,281.3 L252.42,281.9 L252.75,281.89 L253.08,281.4 L253.41,280.8 L253.74,281.19 L254.07,281.89 L254.4,282.01 L254.73,281.45 L255.06,280.85 L255.39,281.06 L255.72,281.7 L256.05,282.03 L256.38,281.3 L256.71,280.84 L257.04,281.02 L257.37,281.51 L257.7,281.98 L258.03,281.44 L258.36,281.07 L258.69,280.84 L259.02,281.62 L259.35,282.03 L259.68,281.55 L260.01,281.07 L260.34,280.88 L260.67,281.45 L261,281.93 L261.33,281.83 L261.66,281.01 L261.99,280.82 L262.32,281.22 L262.65,281.92 L262.98,282.03 L263.31,281.72 L263.64,281.35 L263.97,281.87 L264.3,282.75 L264.63,283.1 L264.96,282.46 L265.29,281.92 L265.62,282.02 L265.95,282.71 L266.28,283.12 L266.61,282.56 L266.94,282.01 L267.27,281.93 L267.6,282.58 L267.93,283 L268.26,282.98 L268.59,282.03 L268.92,281.99 L269.25,282.46 L269.58,283 L269.91,283.01 L270.24,282.22 L270.57,281.89 L270.9,282.39 L271.23,282.94 L271.56,282.88 L271.89,282.48 L272.22,281.83 L272.55,282.31 L272.88,282.84 L273.21,283.03 L273.54,282.59 L273.87,281.86 L274.2,282.16 L274.53,282.42 L274.86,283.02 L275.19,282.46 L275.52,281.83 L275.85,281.94 L276.18,282.65 L276.51,283.01 L276.84,282.7 L277.17,282.05 L277.5,281.77 L277.83,282.52 L278.16,282.96 L278.49,282.92 L278.82,282.14 L279.15,281.41 L279.48,281.43 L279.81,281.77 L280.14,281.53 L280.47,280.85 L280.8,280.39 L281.13,280.67 L281.46,281.18 L281.79,281.64 L282.12,281.24 L282.45,280.46 L282.78,280.73 L283.11,281.41 L283.44,281.65 L283.77,281.1 L284.1,280.67 L284.43,280.63 L284.76,281.25 L285.09,281.61 L285.42,281.59 L285.75,280.93 L286.08,280.54 L286.41,280.92 L286.74,281.55 L287.07,281.51 L287.4,280.94 L287.73,280.52 L288.06,280.77 L288.39,281.61 L288.72,281.73 L289.05,281.15 L289.38,280.52 L289.71,280.62 L290.04,281.1 L290.37,281.24 L290.7,280.76 L291.03,280.31 L291.36,279.72 L291.69,279.13 L292.02,278.54 L292.35,277.95 L292.68,277.36 L293.01,276.77 L293.34,276.18 L293.69,275.49 L294.04,274.8 L294.39,274.11 L294.74,273.42 L295.08,272.73 L295.43,272.04 L295.78,271.36 L296.16,270.49 L296.54,269.63 L296.92,268.77 L297.3,267.91 L297.63,266.88 L297.96,265.84 L298.29,264.81 L298.62,263.78 L298.95,262.74 L299.28,261.71 L299.65,260.79 L300.03,259.87 L300.4,258.95 L300.78,258.03 L301.15,257.12 L301.52,256.2 L301.86,255.31 L302.2,254.43 L302.54,253.54 L302.88,252.65 L303.22,251.77 L303.56,250.88 L303.9,250 L304.23,249.31 L304.56,248.62 L304.89,247.93 L305.22,247.24 L305.55,246.55 L305.88,245.86 L306.21,245.39 L306.54,244.92 L306.87,244.46 L307.2,243.99 L307.53,243.52 L307.86,243.34 L308.19,243.15 L308.52,242.97 L308.85,243.14 L309.18,243.31 L309.51,243.48 L309.84,243.66 L310.17,244.21 L310.5,244.76 L310.83,245.31 L311.16,245.86 L311.53,246.83 L311.9,247.79 L312.27,248.76 L312.64,249.72 L313.01,250.69 L313.36,251.95 L313.71,253.21 L314.06,254.47 L314.42,255.74 L314.77,257 L315.12,258.26 L315.46,259.32 L315.79,260.37 L316.13,261.42 L316.46,262.47 L316.8,263.53 L317.14,264.58 L317.47,265.63 L317.81,266.68 L318.14,267.73 L318.48,268.79 L318.82,269.84 L319.17,270.75 L319.53,271.66 L319.89,272.57 L320.24,273.48 L320.6,274.39 L320.95,275.3 L321.31,276.21 L321.67,277.12 L322.02,278.02 L322.38,278.93 L322.72,279.62 L323.06,280.31 L323.4,281 L323.74,281.69 L324.08,282.38 L324.43,283.07 L324.77,283.76 L325.11,284.45 L325.45,285.13 L325.79,285.82 L326.13,286.51 L326.47,287.2 L326.82,287.7 L327.16,288.2 L327.51,288.7 L327.85,289.19 L328.2,289.69 L328.54,290.19 L328.89,290.69 L329.23,291.19 L329.58,291.69 L329.92,292.18 L330.27,292.68 L330.61,293.18 L330.96,293.68 L331.29,294.07 L331.63,294.47 L331.96,294.86 L332.3,295.26 L332.63,295.65 L332.97,296.05 L333.3,296.44 L333.64,296.84 L333.97,297.23 L334.3,297.63 L334.64,298.02 L334.97,298.42 L335.31,298.81 L335.64,299.21 L335.98,299.6 L336.32,299.9 L336.67,300.19 L337.02,300.48 L337.36,300.78 L337.71,301.07 L338.06,301.36 L338.4,301.65 L338.75,301.95 L339.09,302.24 L339.44,302.53 L339.79,302.83 L340.13,303.12 L340.48,303.41 L340.83,303.7 L341.17,304 L341.52,304.29 L341.86,304.49 L342.21,304.69 L342.55,304.89 L342.9,305.09 L343.24,305.28 L343.59,305.48 L343.93,305.68 L344.28,305.88 L344.62,306.08 L344.97,306.28 L345.31,306.48 L345.66,306.68 L346,306.88 L346.35,307.08 L346.69,307.27 L347.03,307.47 L347.38,307.67 L347.72,307.87 L348.06,308 L348.39,308.12 L348.72,308.24 L349.06,308.37 L349.39,308.49 L349.72,308.61 L350.06,308.74 L350.39,308.86 L350.73,308.98 L351.06,309.1 L351.39,309.23 L351.73,309.35 L352.06,309.47 L352.39,309.6 L352.73,309.72 L353.06,309.84 L353.39,309.97 L353.73,310.09 L354.06,310.21 L354.39,310.3 L354.72,310.38 L355.05,310.47 L355.38,310.55 L355.71,310.64 L356.04,310.72 L356.37,310.8 L356.7,310.89 L357.03,310.97 L357.36,311.06 L357.69,311.14 L358.02,311.23 L358.35,311.31 L358.68,311.39 L359.01,311.48 L359.34,311.56 L359.67,311.65 L360,311.73 L360.35,311.79 L360.7,311.86 L361.04,311.92 L361.39,311.98 L361.74,312.04 L362.09,312.11 L362.44,312.17 L362.78,312.23 L363.13,312.29 L363.48,312.36 L363.83,312.42 L364.19,311.8 L364.55,311.18 L364.92,310.56 L365.28,309.94 L365.61,309.42 L365.94,308.91 L366.27,308.39 L366.6,307.87 L366.93,307.36 L367.26,306.84 L367.59,306.32 L367.92,305.81 L368.26,305.42 L368.6,305.04 L368.94,304.65 L369.28,304.27 L369.62,303.89 L369.96,303.5 L370.3,303.12 L370.64,302.73 L370.97,302.35 L371.31,301.97 L371.65,301.58 L371.99,301.2 L372.33,300.81 L372.67,300.43 L373.02,300.11 L373.37,299.78 L373.72,299.45 L374.06,299.13 L374.41,298.8 L374.76,298.48 L375.11,298.15 L375.46,297.83 L375.8,297.5 L376.15,297.17 L376.5,296.85 L376.83,296.54 L377.16,296.23 L377.49,295.92 L377.82,295.61 L378.15,295.3 L378.48,294.99 L378.81,294.68 L379.14,294.37 L379.47,293.78 L379.8,293.2 L380.13,292.61 L380.46,292.02 L380.79,291.34 L381.12,290.65 L381.45,289.96 L381.78,289.27 L382.11,288.58 L382.44,287.89 L382.77,287.22 L383.1,286.55 L383.43,285.88 L383.76,285.21 L384.09,284.54 L384.42,283.88 L384.75,283.21" fill="none" stroke="#ff0a0a" stroke-width="1.3" stroke-linejoin="round"/>
<path d="M244.5,343.29 L245.16,342.31 L245.84,342.51 L246.53,342.71 L247.21,343.43 L247.89,344.15 L248.47,344.11 L249.05,344.07 L249.57,344.28 L250.09,344.5 L250.56,344.51 L251.02,344.53 L251.48,344.55 L252.03,343.53 L252.57,342.52 L253.19,343.55 L253.8,344.58 L254.47,344.3 L255.15,344.03 L255.63,344.29 L256.12,344.55 L256.78,343.64 L257.44,342.72 L258.12,343.66 L258.8,344.59 L259.38,344.5 L259.95,344.42 L260.47,344.54 L260.98,344.66 L261.5,344.56 L262.02,344.47 L262.9,344.36 L263.58,343.72 L264.26,343.08 L265.13,344.18 L265.6,344.26 L266.07,344.35 L266.54,344.43 L267.02,343.87 L267.5,343.31 L267.98,342.74 L268.57,343.74 L269.17,344.73 L269.68,344.5 L270.19,344.28 L271.06,342.42 L271.52,343.54 L271.98,344.66 L272.85,342.38 L273.33,343.39 L273.81,344.41 L274.3,344.39 L274.78,344.38 L275.33,343.56 L275.87,342.74 L276.36,342.53 L276.85,342.32 L277.33,342.27 L277.81,342.23 L278.29,342.19 L279.16,344.36 L279.84,344.19 L280.53,344.02 L281,343.46 L281.47,342.9 L282.13,342.62 L282.79,342.35 L283.33,343.21 L283.87,344.06 L284.48,344.03 L285.08,343.99 L285.62,343.51 L286.16,343.03 L286.76,343.92 L287.36,344.81 L287.85,344.54 L288.33,344.28 L288.83,344.48 L289.32,344.68 L290.04,343.42 L290.7,342.67 L291.36,341.91 L292.02,342.25 L292.68,342.6 L293.34,341.77 L294,340.94 L294.66,341.43 L295.32,341.91 L295.98,341.22 L296.64,340.53 L297.13,340.57 L297.63,340.6 L298.12,340.63 L298.62,340.67 L299.12,340.77 L299.61,340.88 L300.11,340.98 L300.6,341.08 L301.1,341.19 L301.59,341.29 L302.08,341.39 L302.58,341.5 L303.11,341.72 L303.64,341.94 L304.16,342.16 L304.69,342.38 L305.22,342.6 L305.75,342.87 L306.28,343.15 L306.8,343.42 L307.33,343.7 L307.86,343.98 L308.39,344.2 L308.92,344.42 L309.44,344.64 L309.97,344.86 L310.5,345.08 L310.97,345.24 L311.44,345.39 L311.91,345.55 L312.39,345.71 L312.86,345.87 L313.33,346.02 L313.8,346.18 L314.33,346.35 L314.86,346.51 L315.38,346.68 L315.91,346.84 L316.44,347.01 L317.1,347.08 L317.76,347.14 L318.25,346.97 L318.75,346.8 L319.25,346.63 L319.74,346.46 L320.22,346.42 L320.7,346.38 L321.18,346.34 L321.66,346.31 L322.14,346.27 L322.62,346.23 L323.1,346.19 L323.58,346.16 L324.06,346.12 L324.54,346.08 L325.02,346.04 L325.5,346.01 L325.98,345.97 L326.46,345.93 L326.94,345.89 L327.42,345.85 L327.9,345.82 L328.38,345.78 L328.86,345.74 L329.34,345.7 L329.82,345.67 L330.3,345.63 L330.77,345.6 L331.24,345.58 L331.71,345.56 L332.19,345.53 L332.66,345.51 L333.13,345.48 L333.6,345.46 L334.07,345.43 L334.54,345.41 L335.01,345.38 L335.49,345.36 L335.96,345.33 L336.43,345.31 L336.9,345.28 L337.37,345.26 L337.84,345.24 L338.31,345.21 L338.79,345.19 L339.26,345.16 L339.73,345.14 L340.2,345.11 L340.67,345.09 L341.14,345.06 L341.61,345.04 L342.09,345.01 L342.56,344.99 L343.03,344.96 L343.5,344.94 L343.97,344.92 L344.44,344.9 L344.91,344.88 L345.39,344.86 L345.86,344.84 L346.33,344.82 L346.8,344.8 L347.27,344.78 L347.74,344.76 L348.21,344.74 L348.69,344.72 L349.16,344.7 L349.63,344.68 L350.1,344.66 L350.57,344.64 L351.04,344.63 L351.51,344.61 L351.99,344.59 L352.46,344.57 L352.93,344.55 L353.4,344.53 L353.87,344.51 L354.34,344.49 L354.81,344.47 L355.29,344.45 L355.76,344.43 L356.23,344.41 L356.7,344.39 L357.17,344.37 L357.64,344.35 L358.11,344.33 L358.59,344.31 L359.06,344.29 L359.53,344.27 L360,344.25 L360.47,344.23 L360.94,344.21 L361.41,344.19 L361.89,344.17 L362.36,344.15 L362.83,344.13 L363.3,344.11 L363.96,343.29 L364.62,342.46 L365.28,342.32 L365.94,342.18 L366.44,342.24 L366.93,342.29 L367.43,342.34 L367.92,342.39 L368.42,342.44 L368.91,342.49 L369.4,342.55 L369.9,342.6 L370.38,342.61 L370.86,342.62 L371.34,342.64 L371.82,342.65 L372.3,342.66 L372.78,342.67 L373.26,342.69 L373.74,342.7 L374.22,342.71 L374.7,342.72 L375.18,342.74 L375.68,342.7 L376.17,342.67 L376.66,342.63 L377.16,342.6 L377.65,342.56 L378.15,342.53 L378.64,342.49 L379.14,342.46 L379.8,341.91 L380.46,341.36 L380.96,341.25 L381.45,341.15 L381.94,341.05 L382.44,340.94 L382.94,341.12 L383.43,341.29 L383.93,341.46 L384.42,341.63" fill="none" stroke="#111" stroke-width="1.1" stroke-linejoin="round" stroke-dasharray="1 0.9"/>
</g>
<rect x="237.6" y="237" width="154.6" height="115.5" fill="none" stroke="#444" stroke-width="0.9"/>
<path d="M244.5,352.5 v2" stroke="#222" stroke-width="0.5"/>
<text x="244.5" y="361.1" font-family="DejaVu Sans, Liberation Sans, sans-serif" stroke="#111" stroke-width="0.18" font-size="6.4" text-anchor="middle" fill="#111">0</text>
<path d="M277.5,352.5 v2" stroke="#222" stroke-width="0.5"/>
<text x="277.5" y="361.1" font-family="DejaVu Sans, Liberation Sans, sans-serif" stroke="#111" stroke-width="0.18" font-size="6.4" text-anchor="middle" fill="#111">50</text>
<path d="M310.5,352.5 v2" stroke="#222" stroke-width="0.5"/>
<text x="310.5" y="361.1" font-family="DejaVu Sans, Liberation Sans, sans-serif" stroke="#111" stroke-width="0.18" font-size="6.4" text-anchor="middle" fill="#111">100</text>
<path d="M343.5,352.5 v2" stroke="#222" stroke-width="0.5"/>
<text x="343.5" y="361.1" font-family="DejaVu Sans, Liberation Sans, sans-serif" stroke="#111" stroke-width="0.18" font-size="6.4" text-anchor="middle" fill="#111">150</text>
<path d="M376.5,352.5 v2" stroke="#222" stroke-width="0.5"/>
<text x="376.5" y="361.1" font-family="DejaVu Sans, Liberation Sans, sans-serif" stroke="#111" stroke-width="0.18" font-size="6.4" text-anchor="middle" fill="#111">200</text>
<path d="M237.6,343.7 h-2" stroke="#222" stroke-width="0.5"/>
<text x="234.4" y="345.95" font-family="DejaVu Sans, Liberation Sans, sans-serif" stroke="#111" stroke-width="0.18" font-size="6.4" text-anchor="end" fill="#111">0</text>
<path d="M237.6,329.92 h-2" stroke="#222" stroke-width="0.5"/>
<text x="234.4" y="332.17" font-family="DejaVu Sans, Liberation Sans, sans-serif" stroke="#111" stroke-width="0.18" font-size="6.4" text-anchor="end" fill="#111">10</text>
<path d="M237.6,316.14 h-2" stroke="#222" stroke-width="0.5"/>
<text x="234.4" y="318.39" font-family="DejaVu Sans, Liberation Sans, sans-serif" stroke="#111" stroke-width="0.18" font-size="6.4" text-anchor="end" fill="#111">20</text>
<path d="M237.6,302.36 h-2" stroke="#222" stroke-width="0.5"/>
<text x="234.4" y="304.61" font-family="DejaVu Sans, Liberation Sans, sans-serif" stroke="#111" stroke-width="0.18" font-size="6.4" text-anchor="end" fill="#111">30</text>
<path d="M237.6,288.58 h-2" stroke="#222" stroke-width="0.5"/>
<text x="234.4" y="290.83" font-family="DejaVu Sans, Liberation Sans, sans-serif" stroke="#111" stroke-width="0.18" font-size="6.4" text-anchor="end" fill="#111">40</text>
<path d="M237.6,274.8 h-2" stroke="#222" stroke-width="0.5"/>
<text x="234.4" y="277.05" font-family="DejaVu Sans, Liberation Sans, sans-serif" stroke="#111" stroke-width="0.18" font-size="6.4" text-anchor="end" fill="#111">50</text>
<path d="M237.6,261.02 h-2" stroke="#222" stroke-width="0.5"/>
<text x="234.4" y="263.27" font-family="DejaVu Sans, Liberation Sans, sans-serif" stroke="#111" stroke-width="0.18" font-size="6.4" text-anchor="end" fill="#111">60</text>
<path d="M237.6,247.24 h-2" stroke="#222" stroke-width="0.5"/>
<text x="234.4" y="249.49" font-family="DejaVu Sans, Liberation Sans, sans-serif" stroke="#111" stroke-width="0.18" font-size="6.4" text-anchor="end" fill="#111">70</text>
<text x="314.9" y="368.5" font-family="DejaVu Sans, Liberation Sans, sans-serif" stroke="#111" stroke-width="0.18" font-size="6.45" text-anchor="middle" fill="#111">Time(s)</text>
<text transform="translate(222.5,294.75) rotate(-90)" font-family="DejaVu Sans, Liberation Sans, sans-serif" stroke="#111" stroke-width="0.18" font-size="6.7" text-anchor="middle" fill="#111" xml:space="preserve">Rudder(deg)  /  Course(deg)</text>
<rect x="342.5" y="240.5" width="45.8" height="21.5" rx="1.2" fill="#ffffff" fill-opacity="0.8" stroke="#cccccc" stroke-width="0.5"/>
<path d="M345.1,246.4 h12.5" stroke="#ff0a0a" stroke-width="1.3" fill="none"/>
<text x="363.0" y="248.8" font-family="DejaVu Sans, Liberation Sans, sans-serif" stroke="#111" stroke-width="0.18" font-size="6.4" fill="#111">Course</text>
<path d="M345.1,255.6 h12.5" stroke="#111" stroke-width="1.1" stroke-dasharray="1 0.9" fill="none"/>
<text x="363.0" y="258" font-family="DejaVu Sans, Liberation Sans, sans-serif" stroke="#111" stroke-width="0.18" font-size="6.4" fill="#111">Rudder</text>
<text x="312.5" y="381.5" font-family="Liberation Serif, DejaVu Serif, serif" font-size="11.2" font-weight="bold" text-anchor="middle" fill="#111">(d)</text>
</g>
<g>
<path d="M37,401.3 V516.3" stroke="#b0b0b0" stroke-width="0.5"/>
<path d="M71.1,401.3 V516.3" stroke="#b0b0b0" stroke-width="0.5"/>
<path d="M105.2,401.3 V516.3" stroke="#b0b0b0" stroke-width="0.5"/>
<path d="M139.3,401.3 V516.3" stroke="#b0b0b0" stroke-width="0.5"/>
<path d="M173.4,401.3 V516.3" stroke="#b0b0b0" stroke-width="0.5"/>
<path d="M30.6,508.75 H184.3" stroke="#b0b0b0" stroke-width="0.5"/>
<path d="M30.6,488.35 H184.3" stroke="#b0b0b0" stroke-width="0.5"/>
<path d="M30.6,467.95 H184.3" stroke="#b0b0b0" stroke-width="0.5"/>
<path d="M30.6,447.55 H184.3" stroke="#b0b0b0" stroke-width="0.5"/>
<path d="M30.6,427.15 H184.3" stroke="#b0b0b0" stroke-width="0.5"/>
<path d="M30.6,406.75 H184.3" stroke="#b0b0b0" stroke-width="0.5"/>
<clipPath id="ce"><rect x="30.6" y="401.3" width="153.70000000000002" height="114.99999999999994"/></clipPath>
<g clip-path="url(#ce)">
<path d="M37,406.75 L80.31,406.75 L80.99,410.03 L81.67,413.31 L82.35,416.58 L83.03,419.85 L83.72,423.12 L84.4,426.39 L85.08,429.65 L85.76,432.91 L86.44,436.17 L87.13,439.42 L87.81,442.66 L88.49,445.9 L89.17,449.14 L89.86,452.37 L90.54,455.59 L91.22,458.8 L91.9,462 L92.58,465.18 L93.27,468.36 L93.95,471.52 L94.63,474.65 L95.31,477.77 L95.99,480.86 L96.68,483.92 L97.36,486.94 L98.04,489.91 L98.72,492.82 L99.4,495.66 L100.09,498.4 L100.77,501.01 L101.45,503.46 L102.13,505.7 L102.81,507.66 L103.5,509.26 L104.18,510.4 L104.86,510.99 L105.54,510.99 L106.22,510.4 L106.91,509.28 L107.59,507.7 L108.27,505.76 L108.95,503.54 L109.63,501.1 L110.32,498.51 L111,495.79 L111.68,492.97 L112.36,490.08 L113.04,487.13 L113.73,484.13 L114.41,481.09 L115.09,478.02 L115.77,474.92 L116.45,471.8 L117.14,468.66 L117.82,465.5 L118.5,462.33 L119.18,459.15 L119.86,455.96 L120.55,452.76 L121.23,449.55 L121.91,446.34 L122.59,443.12 L123.27,439.89 L123.96,436.65 L124.64,433.42 L125.32,430.18 L126,426.93 L126.68,423.68 L127.37,420.43 L128.05,417.18 L128.73,413.92 L129.41,410.66 L130.09,407.4 L130.23,406.75 L178.17,406.75" fill="none" stroke="#1f77b4" stroke-width="1.25" stroke-linejoin="round"/>
<path d="M37,406.75 L111.34,406.75 L112.02,408.27 L112.7,409.73 L113.38,411.13 L114.07,412.48 L114.75,413.77 L115.43,415.01 L116.11,416.19 L116.79,417.32 L117.48,418.39 L118.16,419.4 L118.84,420.36 L119.52,421.27 L120.2,422.13 L120.89,422.93 L121.57,423.67 L122.25,424.37 L122.93,425.01 L123.61,425.6 L124.3,426.14 L124.98,426.63 L125.66,427.06 L126.34,427.45 L127.02,427.78 L127.71,428.07 L128.39,428.31 L129.07,428.5 L129.75,428.65 L130.43,428.75 L131.12,428.81 L131.8,428.82 L132.48,428.81 L133.16,428.76 L133.84,428.68 L134.53,428.56 L135.21,428.4 L135.89,428.21 L136.57,427.97 L137.25,427.7 L137.94,427.38 L138.62,427.02 L139.3,426.63 L139.98,426.18 L140.66,425.7 L141.35,425.18 L142.03,424.61 L142.71,424 L143.39,423.34 L144.07,422.64 L144.76,421.9 L145.44,421.11 L146.12,420.28 L146.8,419.4 L147.48,418.48 L148.17,417.51 L148.85,416.5 L149.53,415.44 L150.21,414.34 L150.89,413.19 L151.58,412 L152.26,410.75 L152.94,409.47 L153.62,408.13 L154.3,406.75 L178.17,406.75" fill="none" stroke="#ff7f0e" stroke-width="1.25" stroke-linejoin="round" stroke-dasharray="1.1 1.1"/>
<path d="M37,406.75 L76.9,406.75 L77.58,409.04 L78.26,411.33 L78.94,413.6 L79.62,415.88 L80.31,418.14 L80.99,420.4 L81.67,422.65 L82.35,424.9 L83.03,427.13 L83.72,429.36 L84.4,431.57 L85.08,433.78 L85.76,435.97 L86.44,438.15 L87.13,440.32 L87.81,442.48 L88.49,444.62 L89.17,446.74 L89.86,448.85 L90.54,450.94 L91.22,453 L91.9,455.05 L92.58,457.07 L93.27,459.06 L93.95,461.03 L94.63,462.97 L95.31,464.87 L95.99,466.74 L96.68,468.56 L97.36,470.34 L98.04,472.08 L98.72,473.76 L99.4,475.38 L100.09,476.94 L100.77,478.44 L101.45,479.86 L102.13,481.19 L102.81,482.44 L103.5,483.59 L104.18,484.64 L104.86,485.58 L105.54,486.41 L106.22,487.1 L106.91,487.67 L107.59,488.1 L108.27,488.39 L108.95,488.53 L109.63,488.53 L110.32,488.41 L111,488.17 L111.68,487.8 L112.36,487.32 L113.04,486.73 L113.73,486.02 L114.41,485.22 L115.09,484.32 L115.77,483.32 L116.45,482.24 L117.14,481.08 L117.82,479.85 L118.5,478.54 L119.18,477.18 L119.86,475.75 L120.55,474.27 L121.23,472.74 L121.91,471.16 L122.59,469.55 L123.27,467.89 L123.96,466.2 L124.64,464.47 L125.32,462.71 L126,460.93 L126.68,459.12 L127.37,457.28 L128.05,455.42 L128.73,453.55 L129.41,451.65 L130.09,449.73 L130.78,447.8 L131.46,445.86 L132.14,443.9 L132.82,441.92 L133.5,439.93 L134.19,437.94 L134.87,435.93 L135.55,433.91 L136.23,431.88 L136.91,429.84 L137.6,427.79 L138.28,425.74 L138.96,423.68 L139.64,421.61 L140.32,419.53 L141,417.45 L141.69,415.36 L142.37,413.27 L143.05,411.17 L143.73,409.07 L144.42,406.96 L144.48,406.75 L178.17,406.75" fill="none" stroke="#2ca02c" stroke-width="1.3" stroke-linejoin="round" stroke-dasharray="3.2 1.4"/>
</g>
<rect x="30.6" y="401.3" width="153.70000000000002" height="114.99999999999994" fill="none" stroke="#444" stroke-width="0.9"/>
<path d="M37,516.3 v2" stroke="#222" stroke-width="0.5"/>
<text x="37" y="524.7" font-family="DejaVu Sans, Liberation Sans, sans-serif" stroke="#111" stroke-width="0.18" font-size="6.4" text-anchor="middle" fill="#111">0</text>
<path d="M71.1,516.3 v2" stroke="#222" stroke-width="0.5"/>
<text x="71.1" y="524.7" font-family="DejaVu Sans, Liberation Sans, sans-serif" stroke="#111" stroke-width="0.18" font-size="6.4" text-anchor="middle" fill="#111">50</text>
<path d="M105.2,516.3 v2" stroke="#222" stroke-width="0.5"/>
<text x="105.2" y="524.7" font-family="DejaVu Sans, Liberation Sans, sans-serif" stroke="#111" stroke-width="0.18" font-size="6.4" text-anchor="middle" fill="#111">100</text>
<path d="M139.3,516.3 v2" stroke="#222" stroke-width="0.5"/>
<text x="139.3" y="524.7" font-family="DejaVu Sans, Liberation Sans, sans-serif" stroke="#111" stroke-width="0.18" font-size="6.4" text-anchor="middle" fill="#111">150</text>
<path d="M173.4,516.3 v2" stroke="#222" stroke-width="0.5"/>
<text x="173.4" y="524.7" font-family="DejaVu Sans, Liberation Sans, sans-serif" stroke="#111" stroke-width="0.18" font-size="6.4" text-anchor="middle" fill="#111">200</text>
<path d="M30.6,508.75 h-2" stroke="#222" stroke-width="0.5"/>
<text x="27.400000000000002" y="511" font-family="DejaVu Sans, Liberation Sans, sans-serif" stroke="#111" stroke-width="0.18" font-size="6.4" text-anchor="end" fill="#111">50</text>
<path d="M30.6,488.35 h-2" stroke="#222" stroke-width="0.5"/>
<text x="27.400000000000002" y="490.6" font-family="DejaVu Sans, Liberation Sans, sans-serif" stroke="#111" stroke-width="0.18" font-size="6.4" text-anchor="end" fill="#111">100</text>
<path d="M30.6,467.95 h-2" stroke="#222" stroke-width="0.5"/>
<text x="27.400000000000002" y="470.2" font-family="DejaVu Sans, Liberation Sans, sans-serif" stroke="#111" stroke-width="0.18" font-size="6.4" text-anchor="end" fill="#111">150</text>
<path d="M30.6,447.55 h-2" stroke="#222" stroke-width="0.5"/>
<text x="27.400000000000002" y="449.8" font-family="DejaVu Sans, Liberation Sans, sans-serif" stroke="#111" stroke-width="0.18" font-size="6.4" text-anchor="end" fill="#111">200</text>
<path d="M30.6,427.15 h-2" stroke="#222" stroke-width="0.5"/>
<text x="27.400000000000002" y="429.4" font-family="DejaVu Sans, Liberation Sans, sans-serif" stroke="#111" stroke-width="0.18" font-size="6.4" text-anchor="end" fill="#111">250</text>
<path d="M30.6,406.75 h-2" stroke="#222" stroke-width="0.5"/>
<text x="27.400000000000002" y="409" font-family="DejaVu Sans, Liberation Sans, sans-serif" stroke="#111" stroke-width="0.18" font-size="6.4" text-anchor="end" fill="#111">300</text>
<text x="107.45" y="532.7" font-family="DejaVu Sans, Liberation Sans, sans-serif" stroke="#111" stroke-width="0.18" font-size="6.45" text-anchor="middle" fill="#111">Time(s)</text>
<text transform="translate(11.5,458.8) rotate(-90)" font-family="DejaVu Sans, Liberation Sans, sans-serif" stroke="#111" stroke-width="0.18" font-size="6.7" text-anchor="middle" fill="#111" xml:space="preserve">Diantance(m)</text>
<rect x="33.8" y="482.5" width="60.7" height="29.5" rx="1.2" fill="#ffffff" fill-opacity="0.8" stroke="#cccccc" stroke-width="0.5"/>
<path d="M36.4,487.2 h12.5" stroke="#1f77b4" stroke-width="1.25" fill="none"/>
<text x="54.3" y="489.6" font-family="DejaVu Sans, Liberation Sans, sans-serif" stroke="#111" stroke-width="0.18" font-size="6.4" fill="#111">Obs_USV</text>
<path d="M36.4,497.6 h12.5" stroke="#ff7f0e" stroke-width="1.25" stroke-dasharray="1.1 1.1" fill="none"/>
<text x="54.3" y="500" font-family="DejaVu Sans, Liberation Sans, sans-serif" stroke="#111" stroke-width="0.18" font-size="6.4" fill="#111">Static_Obs1</text>
<path d="M36.4,506.9 h12.5" stroke="#2ca02c" stroke-width="1.3" stroke-dasharray="3.2 1.4" fill="none"/>
<text x="54.3" y="509.3" font-family="DejaVu Sans, Liberation Sans, sans-serif" stroke="#111" stroke-width="0.18" font-size="6.4" fill="#111">Static_Obs2</text>
<rect x="130.4" y="427.42" width="2.8" height="2.8" fill="#000"/>
<text x="132" y="429.3" font-family="DejaVu Sans, Liberation Sans, sans-serif" stroke="#111" stroke-width="0.18" font-size="6.4" fill="#111">[139,245.9]</text>
<rect x="107.89" y="487.15" width="2.8" height="2.8" fill="#000"/>
<text x="110.6" y="488.9" font-family="DejaVu Sans, Liberation Sans, sans-serif" stroke="#111" stroke-width="0.18" font-size="6.4" fill="#111">[106,99.51]</text>
<rect x="103.8" y="509.67" width="2.8" height="2.8" fill="#000"/>
<text x="106.6" y="511.6" font-family="DejaVu Sans, Liberation Sans, sans-serif" stroke="#111" stroke-width="0.18" font-size="6.4" fill="#111">[100,44.32]</text>
<text x="104.5" y="546.2" font-family="Liberation Serif, DejaVu Serif, serif" font-size="11.2" font-weight="bold" text-anchor="middle" fill="#111">(e)</text>
</g>
<g>
<path d="M244.5,401.3 V516.3" stroke="#b0b0b0" stroke-width="0.5"/>
<path d="M277.5,401.3 V516.3" stroke="#b0b0b0" stroke-width="0.5"/>
<path d="M310.5,401.3 V516.3" stroke="#b0b0b0" stroke-width="0.5"/>
<path d="M343.5,401.3 V516.3" stroke="#b0b0b0" stroke-width="0.5"/>
<path d="M376.5,401.3 V516.3" stroke="#b0b0b0" stroke-width="0.5"/>
<path d="M237.6,514.25 H392.2" stroke="#b0b0b0" stroke-width="0.5"/>
<path d="M237.6,492.75 H392.2" stroke="#b0b0b0" stroke-width="0.5"/>
<path d="M237.6,471.25 H392.2" stroke="#b0b0b0" stroke-width="0.5"/>
<path d="M237.6,449.75 H392.2" stroke="#b0b0b0" stroke-width="0.5"/>
<path d="M237.6,428.25 H392.2" stroke="#b0b0b0" stroke-width="0.5"/>
<path d="M237.6,406.75 H392.2" stroke="#b0b0b0" stroke-width="0.5"/>
<clipPath id="cf"><rect x="237.6" y="401.3" width="154.6" height="114.99999999999994"/></clipPath>
<g clip-path="url(#cf)">
<path d="M244.5,406.75 L287.4,406.75 L288.06,410.4 L288.72,414.05 L289.38,417.69 L290.04,421.33 L290.7,424.96 L291.36,428.59 L292.02,432.21 L292.68,435.82 L293.34,439.42 L294,443.02 L294.66,446.6 L295.32,450.17 L295.98,453.73 L296.64,457.27 L297.3,460.79 L297.96,464.3 L298.62,467.78 L299.28,471.23 L299.94,474.65 L300.6,478.04 L301.26,481.38 L301.92,484.66 L302.58,487.88 L303.24,491.03 L303.9,494.08 L304.56,497.01 L305.22,499.79 L305.88,502.39 L306.54,504.76 L307.2,506.85 L307.86,508.58 L308.52,509.89 L309.18,510.7 L309.84,510.98 L310.5,510.75 L311.16,510.05 L311.82,508.94 L312.48,507.45 L313.14,505.65 L313.8,503.58 L314.46,501.3 L315.12,498.83 L315.78,496.23 L316.44,493.51 L317.1,490.69 L317.76,487.8 L318.42,484.84 L319.08,481.82 L319.74,478.76 L320.4,475.66 L321.06,472.53 L321.72,469.37 L322.38,466.18 L323.04,462.97 L323.7,459.75 L324.36,456.5 L325.02,453.25 L325.68,449.98 L326.34,446.7 L327,443.4 L327.66,440.1 L328.32,436.79 L328.98,433.48 L329.64,430.16 L330.3,426.83 L330.96,423.49 L331.62,420.15 L332.28,416.81 L332.94,413.46 L333.6,410.11 L334.26,406.75 L384.42,406.75" fill="none" stroke="#1f77b4" stroke-width="1.25" stroke-linejoin="round"/>
<path d="M244.5,406.75 L330.3,406.75 L330.96,407.62 L331.62,408.46 L332.28,409.26 L332.94,410.02 L333.6,410.75 L334.26,411.43 L334.92,412.08 L335.58,412.7 L336.24,413.28 L336.9,413.82 L337.56,414.32 L338.22,414.79 L338.88,415.23 L339.54,415.63 L340.2,415.99 L340.86,416.32 L341.52,416.61 L342.18,416.88 L342.84,417.1 L343.5,417.3 L344.16,417.46 L344.82,417.59 L345.48,417.69 L346.14,417.75 L346.8,417.79 L347.46,417.81 L348.12,417.79 L348.78,417.75 L349.44,417.66 L350.1,417.55 L350.76,417.4 L351.42,417.2 L352.08,416.97 L352.74,416.7 L353.4,416.4 L354.06,416.05 L354.72,415.66 L355.38,415.23 L356.04,414.75 L356.7,414.24 L357.36,413.69 L358.02,413.09 L358.68,412.45 L359.34,411.76 L360,411.04 L360.66,410.27 L361.32,409.45 L361.98,408.6 L362.64,407.7 L363.3,406.75 L384.42,406.75" fill="none" stroke="#ff7f0e" stroke-width="1.25" stroke-linejoin="round" stroke-dasharray="1.1 1.1"/>
<path d="M244.5,406.75 L283.44,406.75 L284.1,409.11 L284.76,411.46 L285.42,413.81 L286.08,416.16 L286.74,418.51 L287.4,420.85 L288.06,423.19 L288.72,425.53 L289.38,427.86 L290.04,430.19 L290.7,432.51 L291.36,434.84 L292.02,437.15 L292.68,439.46 L293.34,441.77 L294,444.07 L294.66,446.36 L295.32,448.65 L295.98,450.93 L296.64,453.2 L297.3,455.46 L297.96,457.72 L298.62,459.96 L299.28,462.19 L299.94,464.41 L300.6,466.62 L301.26,468.81 L301.92,470.99 L302.58,473.14 L303.24,475.28 L303.9,477.4 L304.56,479.49 L305.22,481.56 L305.88,483.59 L306.54,485.59 L307.2,487.56 L307.86,489.48 L308.52,491.35 L309.18,493.16 L309.84,494.91 L310.5,496.6 L311.16,498.2 L311.82,499.71 L312.48,501.11 L313.14,502.4 L313.8,503.56 L314.46,504.58 L315.12,505.44 L315.78,506.12 L316.44,506.62 L317.1,506.92 L317.76,507.02 L318.42,506.91 L319.08,506.57 L319.74,506.01 L320.4,505.24 L321.06,504.29 L321.72,503.15 L322.38,501.87 L323.04,500.44 L323.7,498.89 L324.36,497.23 L325.02,495.47 L325.68,493.63 L326.34,491.72 L327,489.75 L327.66,487.71 L328.32,485.63 L328.98,483.51 L329.64,481.35 L330.3,479.15 L330.96,476.93 L331.62,474.67 L332.28,472.4 L332.94,470.1 L333.6,467.78 L334.26,465.45 L334.92,463.1 L335.58,460.73 L336.24,458.36 L336.9,455.97 L337.56,453.57 L338.22,451.16 L338.88,448.74 L339.54,446.31 L340.2,443.88 L340.86,441.44 L341.52,438.99 L342.18,436.54 L342.84,434.08 L343.5,431.61 L344.16,429.14 L344.82,426.67 L345.48,424.19 L346.14,421.71 L346.8,419.23 L347.46,416.74 L348.12,414.24 L348.78,411.75 L349.44,409.25 L350.1,406.75 L384.42,406.75" fill="none" stroke="#2ca02c" stroke-width="1.3" stroke-linejoin="round" stroke-dasharray="3.2 1.4"/>
</g>
<rect x="237.6" y="401.3" width="154.6" height="114.99999999999994" fill="none" stroke="#444" stroke-width="0.9"/>
<path d="M244.5,516.3 v2" stroke="#222" stroke-width="0.5"/>
<text x="244.5" y="524.7" font-family="DejaVu Sans, Liberation Sans, sans-serif" stroke="#111" stroke-width="0.18" font-size="6.4" text-anchor="middle" fill="#111">0</text>
<path d="M277.5,516.3 v2" stroke="#222" stroke-width="0.5"/>
<text x="277.5" y="524.7" font-family="DejaVu Sans, Liberation Sans, sans-serif" stroke="#111" stroke-width="0.18" font-size="6.4" text-anchor="middle" fill="#111">50</text>
<path d="M310.5,516.3 v2" stroke="#222" stroke-width="0.5"/>
<text x="310.5" y="524.7" font-family="DejaVu Sans, Liberation Sans, sans-serif" stroke="#111" stroke-width="0.18" font-size="6.4" text-anchor="middle" fill="#111">100</text>
<path d="M343.5,516.3 v2" stroke="#222" stroke-width="0.5"/>
<text x="343.5" y="524.7" font-family="DejaVu Sans, Liberation Sans, sans-serif" stroke="#111" stroke-width="0.18" font-size="6.4" text-anchor="middle" fill="#111">150</text>
<path d="M376.5,516.3 v2" stroke="#222" stroke-width="0.5"/>
<text x="376.5" y="524.7" font-family="DejaVu Sans, Liberation Sans, sans-serif" stroke="#111" stroke-width="0.18" font-size="6.4" text-anchor="middle" fill="#111">200</text>
<path d="M237.6,514.25 h-2" stroke="#222" stroke-width="0.5"/>
<text x="234.4" y="516.5" font-family="DejaVu Sans, Liberation Sans, sans-serif" stroke="#111" stroke-width="0.18" font-size="6.4" text-anchor="end" fill="#111">50</text>
<path d="M237.6,492.75 h-2" stroke="#222" stroke-width="0.5"/>
<text x="234.4" y="495" font-family="DejaVu Sans, Liberation Sans, sans-serif" stroke="#111" stroke-width="0.18" font-size="6.4" text-anchor="end" fill="#111">100</text>
<path d="M237.6,471.25 h-2" stroke="#222" stroke-width="0.5"/>
<text x="234.4" y="473.5" font-family="DejaVu Sans, Liberation Sans, sans-serif" stroke="#111" stroke-width="0.18" font-size="6.4" text-anchor="end" fill="#111">150</text>
<path d="M237.6,449.75 h-2" stroke="#222" stroke-width="0.5"/>
<text x="234.4" y="452" font-family="DejaVu Sans, Liberation Sans, sans-serif" stroke="#111" stroke-width="0.18" font-size="6.4" text-anchor="end" fill="#111">200</text>
<path d="M237.6,428.25 h-2" stroke="#222" stroke-width="0.5"/>
<text x="234.4" y="430.5" font-family="DejaVu Sans, Liberation Sans, sans-serif" stroke="#111" stroke-width="0.18" font-size="6.4" text-anchor="end" fill="#111">250</text>
<path d="M237.6,406.75 h-2" stroke="#222" stroke-width="0.5"/>
<text x="234.4" y="409" font-family="DejaVu Sans, Liberation Sans, sans-serif" stroke="#111" stroke-width="0.18" font-size="6.4" text-anchor="end" fill="#111">300</text>
<text x="314.9" y="532.7" font-family="DejaVu Sans, Liberation Sans, sans-serif" stroke="#111" stroke-width="0.18" font-size="6.45" text-anchor="middle" fill="#111">Time(s)</text>
<text transform="translate(218.5,458.8) rotate(-90)" font-family="DejaVu Sans, Liberation Sans, sans-serif" stroke="#111" stroke-width="0.18" font-size="6.7" text-anchor="middle" fill="#111" xml:space="preserve">Diantance(m)</text>
<rect x="240.6" y="482.5" width="61" height="30" rx="1.2" fill="#ffffff" fill-opacity="0.8" stroke="#cccccc" stroke-width="0.5"/>
<path d="M243.2,487.2 h12.5" stroke="#1f77b4" stroke-width="1.25" fill="none"/>
<text x="261.1" y="489.6" font-family="DejaVu Sans, Liberation Sans, sans-serif" stroke="#111" stroke-width="0.18" font-size="6.4" fill="#111">Obs_USV</text>
<path d="M243.2,497.6 h12.5" stroke="#ff7f0e" stroke-width="1.25" stroke-dasharray="1.1 1.1" fill="none"/>
<text x="261.1" y="500" font-family="DejaVu Sans, Liberation Sans, sans-serif" stroke="#111" stroke-width="0.18" font-size="6.4" fill="#111">Static_Obs1</text>
<path d="M243.2,506.9 h12.5" stroke="#2ca02c" stroke-width="1.3" stroke-dasharray="3.2 1.4" fill="none"/>
<text x="261.1" y="509.3" font-family="DejaVu Sans, Liberation Sans, sans-serif" stroke="#111" stroke-width="0.18" font-size="6.4" fill="#111">Static_Obs2</text>
<rect x="346.06" y="416.41" width="2.8" height="2.8" fill="#000"/>
<text x="348.3" y="417.6" font-family="DejaVu Sans, Liberation Sans, sans-serif" stroke="#111" stroke-width="0.18" font-size="6.4" fill="#111">[156,274.29]</text>
<rect x="316.36" y="505.62" width="2.8" height="2.8" fill="#000"/>
<text x="318.3" y="503.1" font-family="DejaVu Sans, Liberation Sans, sans-serif" stroke="#111" stroke-width="0.18" font-size="6.4" fill="#111">[111,66.81]</text>
<rect x="308.44" y="509.58" width="2.8" height="2.8" fill="#000"/>
<text x="311" y="513.8" font-family="DejaVu Sans, Liberation Sans, sans-serif" stroke="#111" stroke-width="0.18" font-size="6.4" fill="#111">[99,57.6]</text>
<text x="312.5" y="546.2" font-family="Liberation Serif, DejaVu Serif, serif" font-size="11.2" font-weight="bold" text-anchor="middle" fill="#111">(f)</text>
</g>
</svg>
</body></html>
